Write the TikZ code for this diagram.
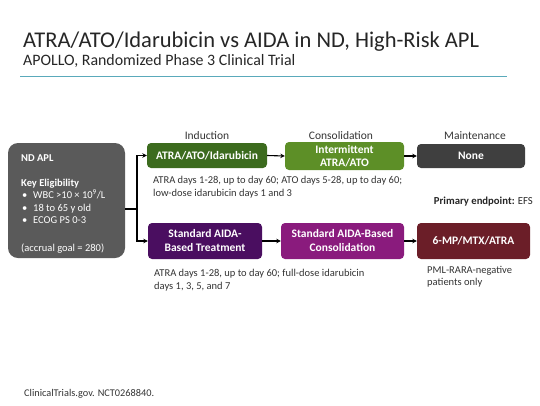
\documentclass[tikz,border=0pt]{standalone}
\usepackage{fontspec}
\setmainfont{Carlito}
\usetikzlibrary{arrows.meta}
\definecolor{ttl}{HTML}{262626}
\definecolor{rulec}{HTML}{5AAABB}
\definecolor{grayb}{HTML}{5A5A5A}
\definecolor{darkg}{HTML}{3C6B1E}
\definecolor{lightg}{HTML}{5D8F27}
\definecolor{noneb}{HTML}{3F3F3F}
\definecolor{purpb}{HTML}{4A0E60}
\definecolor{magb}{HTML}{8A1B7D}
\definecolor{marb}{HTML}{6B1E28}
\definecolor{txt}{HTML}{333333}
\tikzset{
  armbox/.style={draw=none, rounded corners=4pt, text=white, font=\fontsize{11.5}{14}\selectfont\bfseries, align=center, inner sep=0pt},
  phase/.style={font=\fontsize{11.5}{13}\selectfont, text=txt},
  note/.style={font=\fontsize{10.5}{13}\selectfont, text=txt, anchor=base west, inner sep=0pt},
  ndline/.style={font=\fontsize{10.5}{12}\selectfont, text=white, anchor=base west, inner sep=0pt},
  conn/.style={line width=1.1pt, -{Stealth[length=4.5pt,width=4.5pt]}},
}
\begin{document}
\begin{tikzpicture}[x=1pt,y=-1pt]
\useasboundingbox (0,0) rectangle (540,405);
% title
\node[anchor=base west, inner sep=0pt, text=ttl, font=\fontsize{22.5}{26}\selectfont] (title) at (23,47.5) {ATRA/ATO/Idarubicin vs AIDA in ND, High-Risk APL};
\node[anchor=base west, inner sep=0pt, text=ttl, font=\fontsize{15.9}{18}\selectfont] (subtitle) at (23,65.5) {APOLLO, Randomized Phase 3 Clinical Trial};
\draw[rulec, line width=1pt] (20,76) coordinate (r1) -- (507,76) coordinate (r2);
% ND APL box
\node[fill=grayb, rounded corners=10pt, minimum width=117pt, minimum height=115pt, inner sep=0pt] (ndapl) at (66.5,200.5) {};
\node[ndline, font=\fontsize{10.5}{12}\selectfont\bfseries] (nd1) at (21,161) {ND APL};
\node[ndline, font=\fontsize{10.5}{12}\selectfont\bfseries] (nd2) at (21,186) {Key Eligibility};
\node[ndline] (nd3b) at (22,198.5) {•};
\node[ndline] (nd3) at (33,198.5) {WBC >10 × 10\textsuperscript{9}/L};
\node[ndline] (nd4b) at (22,211) {•};
\node[ndline] (nd4) at (33,211) {18 to 65 y old};
\node[ndline] (nd5b) at (22,223) {•};
\node[ndline] (nd5) at (33,223) {ECOG PS 0-3};
\node[ndline] (nd6) at (21,251) {(accrual goal = 280)};
% phase labels
\node[phase] (lind) at (207,135.5) {Induction};
\node[phase] (lcons) at (341,135.5) {Consolidation};
\node[phase] (lmaint) at (475,135.5) {Maintenance};
% top row
\node[armbox, fill=darkg, minimum width=120pt, minimum height=25pt] (atra) at (207,155.5) {ATRA/ATO/Idarubicin};
\node[armbox, fill=lightg, minimum width=119pt, minimum height=28pt, font=\fontsize{11.5}{13.5}\selectfont\bfseries] (inter) at (344.5,156) {Intermittent\\ATRA/ATO};
\node[armbox, fill=noneb, minimum width=108pt, minimum height=24pt] (none) at (471,156) {None};
% bottom row
\node[armbox, fill=purpb, minimum width=114pt, minimum height=36pt] (aida) at (205,241) {Standard AIDA-\\Based Treatment};
\node[armbox, fill=magb, minimum width=123pt, minimum height=36pt] (cons) at (342.5,241) {Standard AIDA-Based\\Consolidation};
\node[armbox, fill=marb, minimum width=113pt, minimum height=36pt] (mmtx) at (473.5,241) {6-MP/MTX/ATRA};
% notes
\node[note] (n1a) at (153,183.5) {ATRA days 1-28, up to day 60; ATO days 5-28, up to day 60;};
\node[note] (n1b) at (153,196.5) {low-dose idarubicin days 1 and 3};
\node[note] (n2a) at (154,276.5) {ATRA days 1-28, up to day 60; full-dose idarubicin};
\node[note] (n2b) at (154,289.5) {days 1, 3, 5, and 7};
\node[note] (n3a) at (427,273.5) {PML-RARA-negative};
\node[note] (n3b) at (427,285.5) {patients only};
\node[anchor=base east, inner sep=0pt, text=ttl, font=\fontsize{10.7}{12}\selectfont] (pe) at (533,204) {\textbf{Primary endpoint:} EFS};
% connectors
\coordinate (j) at (137,209);
\draw[line width=1.1pt] (j -| ndapl.east) -- (j);
\draw[conn] (j) |- (atra.west);
\draw[conn] (j) |- (aida.west);
\draw[conn] (atra.east) -- (inter.west);
\draw[conn] (inter.east) -- (none.west);
\draw[conn] (aida.east) -- (cons.west);
\draw[conn] (cons.east) -- (mmtx.west);
% footer
\node[anchor=base west, inner sep=0pt, text=txt, font=\fontsize{10.3}{12}\selectfont] (foot) at (24,396) {ClinicalTrials.gov. NCT0268840.};
\end{tikzpicture}
\end{document}
